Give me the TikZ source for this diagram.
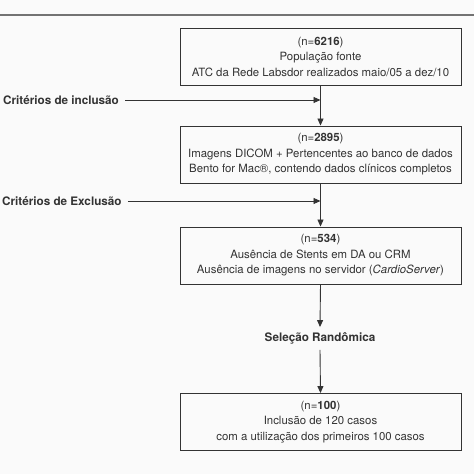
\documentclass[tikz,border=0pt]{standalone}
\usepackage{fontspec}
\setmainfont{TeX Gyre Heros}
\usetikzlibrary{arrows.meta}
\definecolor{fundo}{HTML}{FAFAFA}
\definecolor{traco}{HTML}{333333}
\tikzset{
  caixa/.style={draw=traco,line width=0.9pt,minimum width=281pt,minimum height=57pt,
    align=center,font=\fontsize{11.4}{15.5}\selectfont,text=traco,inner sep=2pt},
  rotulo/.style={font=\fontsize{11.7}{14}\selectfont\bfseries,text=traco,inner sep=2pt},
  seta/.style={draw=traco,line width=0.9pt,-{Triangle[length=7pt,width=6pt]}}
}
\begin{document}
\begin{tikzpicture}[x=1pt,y=1pt]
        \fill[fundo] (0,0) rectangle (474,474);
        \useasboundingbox (0,0) rectangle (474,474);
        \draw[gray!90!black,line width=1.5pt] (0,459) -- (474,459);
        % caixas
        \node[caixa] (pop) at (320.5,417.5) {(n=\textbf{6216})\\População fonte\\ATC da Rede Labsdor realizados maio/05 a dez/10};
        \node[caixa] (dicom) at (320.5,319.5) {(n=\textbf{2895})\\Imagens DICOM + Pertencentes ao banco de dados\\Bento for Mac®, contendo dados clínicos completos};
        \node[caixa] (stents) at (320.5,218.5) {(n=\textbf{534})\\Ausência de Stents em DA ou CRM\\Ausência de imagens no servidor (\textit{CardioServer})};
        \node[caixa] (amostra) at (320.5,52) {(n=\textbf{100})\\Inclusão de 120 casos\\com a utilização dos primeiros 100 casos};
        % criterios
        \node[rotulo,anchor=west] (incl) at (1,374) {Critérios de inclusão};
        \node[rotulo,anchor=west] (excl) at (0,273) {Critérios de Exclusão};
        \node[rotulo] (sel) at (320,136) {Seleção Randômica};
        \coordinate (jincl) at (pop.south |- incl);
        \coordinate (jexcl) at (dicom.south |- excl);
        % setas
        \draw[seta] (pop.south) -- (dicom.north);
        \draw[seta] (dicom.south) -- (stents.north);
        \draw[seta] ([xshift=4pt]incl.east) -- (jincl);
        \draw[seta] ([xshift=4pt]excl.east) -- (jexcl);
        \draw[seta] (stents.south) -- ([yshift=3pt]sel.north);
        \draw[seta] ([yshift=-4pt]sel.south) -- (amostra.north);
\end{tikzpicture}
\end{document}
